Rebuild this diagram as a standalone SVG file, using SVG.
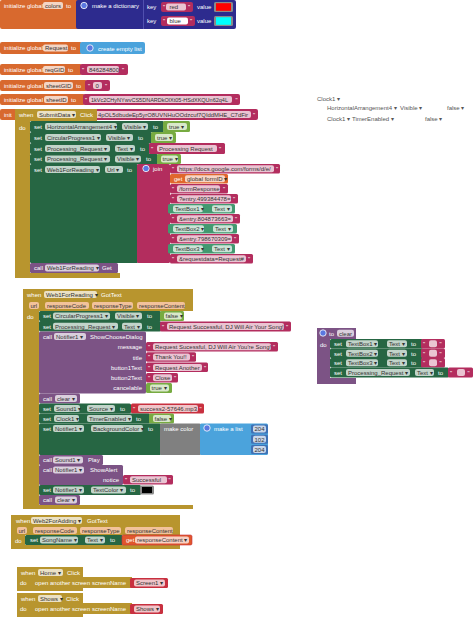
<svg xmlns="http://www.w3.org/2000/svg" width="474" height="620" viewBox="0 0 474 620">
<style>
text{font-family:"Liberation Sans",Arial,sans-serif;font-size:6px;fill:#fff}
.k{fill:#333}
.g{fill:#555}
.c{fill:#fff;fill-opacity:.72}
.ev{fill:#b8952e}
.vr{fill:#d8692e}
.st{fill:#b32d5e}
.lg{fill:#77ab41}
.se{fill:#266643}
.ge{fill:#439970}
.pr{fill:#7c5385}
.pm{fill:#f2c29b}
.e{text-anchor:end}
.gear{fill:#5a78e0;stroke:#fff;stroke-width:.8}
</style>
<rect width="474" height="620" fill="#fff"/>
<g id="connectors"/>

<g id="init-colors">
<rect class="vr" x="0" y="0" width="80" height="29" rx="2"/>
<text x="4" y="8">initialize global</text>
<rect class="c" x="43" y="2" width="20" height="7" rx="2"/><text class="k" x="45" y="7.8">colors</text>
<text x="66" y="8">to</text>
<rect x="76" y="0" width="160" height="29" rx="2" fill="#2d2b8e"/>
<circle class="gear" cx="84" cy="5.5" r="3.2"/>
<text x="92" y="8">make a dictionary</text>
<line x1="143.5" y1="0" x2="143.5" y2="29" stroke="#5b5bb8" stroke-width=".8"/>
<text x="147" y="9">key</text>
<rect class="st" x="161" y="2" width="32" height="10" rx="2"/>
<text x="163" y="9">"</text><rect class="c" x="166" y="3.5" width="20" height="7" rx="2"/><text class="k" x="169.5" y="9">red</text><text x="188" y="9">"</text>
<text x="197" y="9">value</text>
<rect x="214" y="2" width="19" height="10" rx="1.5" fill="#8a8a8a"/><rect x="216" y="3.2" width="15" height="7.6" fill="#ff0000"/>
<text x="147" y="23">key</text>
<rect class="st" x="161" y="16" width="34" height="10" rx="2"/>
<text x="163" y="23">"</text><rect x="167" y="17.5" width="21" height="7" rx="2" fill="#fff"/><text class="k" x="169.5" y="23">blue</text><text x="190" y="23">"</text>
<text x="197" y="23">value</text>
<rect x="214" y="16" width="19" height="10" rx="1.5" fill="#8a8a8a"/><rect x="216" y="17.2" width="15" height="7.6" fill="#00ffff"/>
</g>

<g id="init-request">
<rect class="vr" x="0" y="42" width="82" height="12" rx="2"/>
<text x="4" y="50">initialize global</text>
<rect class="c" x="43" y="44.5" width="25" height="7" rx="2"/><text class="k" x="45" y="50.2">Request</text>
<text x="71" y="50">to</text>
<rect x="80" y="42" width="65" height="12" rx="2" fill="#4ba3dc"/>
<circle class="gear" cx="90" cy="48" r="3.2"/>
<text x="98" y="50.5">create empty list</text>
</g>

<g id="init-reqgid">
<rect class="vr" x="0" y="64" width="82" height="11" rx="2"/>
<text x="4" y="71.5">initialize global</text>
<rect class="c" x="43" y="66" width="22" height="7" rx="2"/><text class="k" x="45" y="71.7">reqGID</text>
<text x="68" y="71.5">to</text>
<rect class="st" x="80" y="64" width="48" height="11" rx="2"/>
<text x="82" y="71.5">"</text><rect class="c" x="87" y="66" width="32" height="7" rx="2"/><text class="k" x="89" y="71.7">846284800</text><text x="122" y="71.5">"</text>
</g>

<g id="init-sheetgid">
<rect class="vr" x="0" y="80" width="87" height="11" rx="2"/>
<text x="4" y="87.5">initialize global</text>
<rect class="c" x="44" y="82" width="29" height="7" rx="2"/><text class="k" x="46" y="87.7">sheetGID</text>
<text x="76" y="87.5">to</text>
<rect class="st" x="85" y="80" width="25" height="11" rx="2"/>
<text x="88" y="87.5">"</text><rect class="c" x="93" y="82" width="9" height="7" rx="2"/><text class="k" x="95.5" y="87.7">0</text><text x="105" y="87.5">"</text>
</g>

<g id="init-sheetid">
<rect class="vr" x="0" y="94" width="85" height="11" rx="2"/>
<text x="4" y="101.5">initialize global</text>
<rect class="c" x="44" y="96" width="24" height="7" rx="2"/><text class="k" x="46" y="101.7">sheetID</text>
<text x="71" y="101.5">to</text>
<rect class="st" x="83" y="94" width="157" height="11" rx="2"/>
<text x="85" y="101.5">"</text><rect class="c" x="89" y="96" width="143" height="7" rx="2"/><text class="k" x="91" y="101.5" style="font-size:5.3px" textLength="137" lengthAdjust="spacingAndGlyphs">1kVc2CHyNYwvCS5DNARDkOlXt05-HSdXKQUn62q4L</text><text x="235.5" y="101.5">"</text>
</g>

<g id="init-formid">
<rect class="vr" x="0" y="109" width="90" height="11" rx="2"/>
<text x="4" y="116.5">init</text>
<rect class="st" x="85" y="109" width="173" height="11" rx="2"/>
<rect class="c" x="90" y="111" width="161" height="7" rx="2"/>
<text class="k" x="98" y="116.7" textLength="150" lengthAdjust="spacingAndGlyphs">4pOL5dbudeEp5yrO8UVNHuOOdzcuf7QIddMHE_C7dFir</text>
<text x="253" y="116.5">"</text>
</g>

<g id="submitdata-click">
<path class="ev" d="M15,109 H97 V121 H30 V273 H120 V278 H15 Z"/>
<text x="19" y="117">when</text>
<rect class="c" x="37" y="111" width="39" height="7" rx="2"/><text class="k" x="39" y="116.7">SubmitData ▾</text>
<text x="80" y="117">Click</text>
<text x="19" y="130">do</text>

<rect class="se" x="30" y="121" width="134" height="11" rx="1.5"/>
<text x="34" y="128.5">set</text>
<rect class="c" x="45" y="123" width="72" height="7" rx="2"/><text class="k" x="47" y="128.7">HorizontalArrangement4 ▾</text>
<rect class="c" x="122" y="123" width="26" height="7" rx="2"/><text class="k" x="124" y="128.7">Visible ▾</text>
<text x="153" y="128.5">to</text>
<rect class="lg" x="163" y="121" width="27" height="11" rx="1.5"/>
<rect class="c" x="167" y="123" width="20" height="7" rx="2"/><text class="k" x="169" y="128.7">true ▾</text>

<rect class="se" x="30" y="132" width="122" height="11" rx="1.5"/>
<text x="34" y="139.5">set</text>
<rect class="c" x="45" y="134" width="56" height="7" rx="2"/><text class="k" x="47" y="139.7">CircularProgress1 ▾</text>
<rect class="c" x="106" y="134" width="27" height="7" rx="2"/><text class="k" x="108" y="139.7">Visible ▾</text>
<text x="138" y="139.5">to</text>
<rect class="lg" x="151" y="132" width="25" height="11" rx="1.5"/>
<rect class="c" x="155" y="134" width="18" height="7" rx="2"/><text class="k" x="157" y="139.7">true ▾</text>

<rect class="se" x="30" y="143" width="120" height="11" rx="1.5"/>
<text x="34" y="150.5">set</text>
<rect class="c" x="45" y="145" width="65" height="7" rx="2"/><text class="k" x="47" y="150.7">Processing_Request ▾</text>
<rect class="c" x="115" y="145" width="20" height="7" rx="2"/><text class="k" x="117" y="150.7">Text ▾</text>
<text x="140" y="150.5">to</text>
<rect class="st" x="149" y="143" width="76" height="11" rx="1.5"/>
<text x="151" y="150.5">"</text><rect class="c" x="157" y="145" width="60" height="7" rx="2"/><text class="k" x="159" y="150.7">Processing Request</text><text x="219" y="150.5">"</text>

<rect class="se" x="30" y="154" width="128" height="10" rx="1.5"/>
<text x="34" y="161">set</text>
<rect class="c" x="45" y="155.5" width="65" height="7" rx="2"/><text class="k" x="47" y="161.2">Processing_Request ▾</text>
<rect class="c" x="115" y="155.5" width="26" height="7" rx="2"/><text class="k" x="117" y="161.2">Visible ▾</text>
<text x="146" y="161">to</text>
<rect class="lg" x="157" y="154" width="24" height="10" rx="1.5"/>
<rect class="c" x="161" y="155.5" width="17" height="7" rx="2"/><text class="k" x="162.5" y="161.2">true ▾</text>

<rect class="se" x="30" y="164" width="108" height="99" rx="1.5"/>
<text x="34" y="171.5">set</text>
<rect class="c" x="45" y="166" width="55" height="7" rx="2"/><text class="k" x="47" y="171.7">Web1ForReading ▾</text>
<rect class="c" x="105" y="166" width="18" height="7" rx="2"/><text class="k" x="107" y="171.7">Url ▾</text>
<text x="127" y="171.5">to</text>
<rect class="st" x="137" y="164" width="33" height="99" rx="1.5"/>
<circle class="gear" cx="146" cy="168.5" r="3.2"/>
<text x="153" y="171">join</text>

<rect class="st" x="170" y="164" width="110" height="9.5" rx="1.5"/>
<text x="172" y="171">"</text><rect class="c" x="177" y="165.3" width="97" height="7" rx="2"/><text class="k" x="179" y="171">https://docs.google.com/forms/d/e/</text><text x="276" y="171">"</text>

<rect x="170" y="174" width="58" height="9.5" rx="1.5" fill="#e0672c"/>
<text x="174" y="181">get</text>
<rect class="c" x="185" y="175.3" width="40" height="7" rx="2"/><text class="k" x="187" y="181">global formID ▾</text>

<rect class="st" x="170" y="184" width="58" height="9.5" rx="1.5"/>
<text x="172" y="191">"</text><rect class="c" x="177" y="185.3" width="43" height="7" rx="2"/><text class="k" x="179" y="191">/formResponse</text><text x="223" y="191">"</text>

<rect class="st" x="170" y="194" width="68" height="9.5" rx="1.5"/>
<text x="172" y="201">"</text><rect class="c" x="177" y="195.3" width="54" height="7" rx="2"/><text class="k" x="179" y="201">?entry.499384478=</text><text x="233" y="201">"</text>

<rect class="ge" x="168" y="204" width="67" height="9.5" rx="1.5"/>
<rect class="c" x="173" y="205.3" width="30" height="7" rx="2"/><text class="k" x="175" y="211">TextBox1 ▾</text>
<rect class="c" x="212" y="205.3" width="20" height="7" rx="2"/><text class="k" x="214" y="211">Text ▾</text>

<rect class="st" x="170" y="214" width="70" height="9.5" rx="1.5"/>
<text x="172" y="221">"</text><rect class="c" x="177" y="215.3" width="56" height="7" rx="2"/><text class="k" x="179" y="221">&amp;entry.804873663=</text><text x="235" y="221">"</text>

<rect class="ge" x="168" y="224" width="69" height="9.5" rx="1.5"/>
<rect class="c" x="173" y="225.3" width="31" height="7" rx="2"/><text class="k" x="175" y="231">TextBox2 ▾</text>
<rect class="c" x="213" y="225.3" width="20" height="7" rx="2"/><text class="k" x="215" y="231">Text ▾</text>

<rect class="st" x="170" y="234" width="69" height="9.5" rx="1.5"/>
<text x="172" y="241">"</text><rect class="c" x="177" y="235.3" width="55" height="7" rx="2"/><text class="k" x="179" y="241">&amp;entry.798670309=</text><text x="234" y="241">"</text>

<rect class="ge" x="168" y="244" width="67" height="9.5" rx="1.5"/>
<rect class="c" x="173" y="245.3" width="30" height="7" rx="2"/><text class="k" x="175" y="251">TextBox3 ▾</text>
<rect class="c" x="212" y="245.3" width="20" height="7" rx="2"/><text class="k" x="214" y="251">Text ▾</text>

<rect class="st" x="170" y="254" width="83" height="9.5" rx="1.5"/>
<text x="172" y="261">"</text><rect class="c" x="177" y="255.3" width="69" height="7" rx="2"/><text class="k" x="179" y="261">&amp;requestdata=Request#</text><text x="248" y="261">"</text>

<rect class="pr" x="30" y="263" width="88" height="10" rx="1.5"/>
<text x="34" y="270">call</text>
<rect class="c" x="45" y="264.5" width="54" height="7" rx="2"/><text class="k" x="47" y="270.2">Web1ForReading ▾</text>
<text x="102" y="270">Get</text>
</g>

<g id="floating-labels">
<text class="g" x="317" y="101">Clock1 ▾</text>
<text class="g" x="327" y="110">HorizontalArrangement4 ▾</text>
<text class="g" x="400" y="110">Visible ▾</text>
<text class="g" x="447" y="110">false ▾</text>
<text class="g" x="327" y="120.5">Clock1 ▾</text>
<text class="g" x="352" y="120.5">TimerEnabled ▾</text>
<text class="g" x="425" y="120.5">false ▾</text>
</g>

<g id="web1-gottext">
<path class="ev" d="M23,289 H193 V311 H39 V505 H193 V509 H23 Z"/>
<text x="27" y="297">when</text>
<rect class="c" x="44" y="291" width="53" height="7" rx="2"/><text class="k" x="46" y="296.7">Web1ForReading ▾</text>
<text x="101" y="297">GotText</text>
<rect class="pm" x="29" y="302" width="10" height="7" rx="2"/><text class="k" x="30.5" y="307.7">url</text>
<rect class="pm" x="45" y="302" width="44" height="7" rx="2"/><text class="k" x="47" y="307.7">responseCode</text>
<rect class="pm" x="92" y="302" width="41" height="7" rx="2"/><text class="k" x="94" y="307.7">responseType</text>
<rect class="pm" x="137" y="302" width="48" height="7" rx="2"/><text class="k" x="139" y="307.7">responseContent</text>
<text x="27" y="318.5">do</text>

<rect class="se" x="39" y="311" width="122" height="10" rx="1.5"/>
<text x="43" y="318">set</text>
<rect class="c" x="53" y="312.5" width="57" height="7" rx="2"/><text class="k" x="55" y="318.2">CircularProgress1 ▾</text>
<rect class="c" x="115" y="312.5" width="27" height="7" rx="2"/><text class="k" x="117" y="318.2">Visible ▾</text>
<text x="147" y="318">to</text>
<rect class="lg" x="160" y="311" width="24" height="10" rx="1.5"/>
<rect class="c" x="164" y="312.5" width="18" height="7" rx="2"/><text class="k" x="165.5" y="318.2">false ▾</text>

<rect class="se" x="39" y="321" width="122" height="10.5" rx="1.5"/>
<text x="43" y="328.5">set</text>
<rect class="c" x="53" y="322.8" width="65" height="7" rx="2"/><text class="k" x="55" y="328.5">Processing_Request ▾</text>
<rect class="c" x="122" y="322.8" width="20" height="7" rx="2"/><text class="k" x="124" y="328.5">Text ▾</text>
<text x="147" y="328.5">to</text>
<rect class="st" x="160" y="321.5" width="131" height="10" rx="1.5"/>
<text x="162" y="328.5">"</text><rect class="c" x="167" y="323" width="117" height="7" rx="2"/><text class="k" x="169" y="328.7">Request Successful, DJ Will Air Your Song!</text><text x="286" y="328.5">"</text>

<rect class="pr" x="39" y="331.5" width="107" height="62" rx="1.5"/>
<text x="43" y="339">call</text>
<rect class="c" x="54" y="333" width="32" height="7" rx="2"/><text class="k" x="56" y="338.7">Notifier1 ▾</text>
<text x="90" y="339">ShowChooseDialog</text>
<text class="e" x="142" y="349">message</text>
<text class="e" x="142" y="359.5">title</text>
<text class="e" x="142" y="369.5">button1Text</text>
<text class="e" x="142" y="379.5">button2Text</text>
<text class="e" x="142" y="390">cancelable</text>

<rect class="st" x="146" y="342" width="132" height="9.5" rx="1.5"/>
<text x="148" y="349">"</text><rect class="c" x="153" y="343.3" width="118" height="7" rx="2"/><text class="k" x="155" y="349">Request Sucessful, DJ Will Air You're Song!</text><text x="273" y="349">"</text>
<rect class="st" x="146" y="352.3" width="50" height="9.5" rx="1.5"/>
<text x="148" y="359.3">"</text><rect class="c" x="153" y="353.6" width="37" height="7" rx="2"/><text class="k" x="155" y="359.3">Thank You!!</text><text x="192" y="359.3">"</text>
<rect class="st" x="146" y="362.6" width="62" height="9.5" rx="1.5"/>
<text x="148" y="369.6">"</text><rect class="c" x="153" y="363.9" width="49" height="7" rx="2"/><text class="k" x="155" y="369.6">Request Another</text><text x="204" y="369.6">"</text>
<rect class="st" x="146" y="372.9" width="32" height="9.5" rx="1.5"/>
<text x="148" y="379.9">"</text><rect class="c" x="153" y="374.2" width="19" height="7" rx="2"/><text class="k" x="155" y="379.9">Close</text><text x="174" y="379.9">"</text>
<rect class="lg" x="146" y="383" width="26" height="10" rx="1.5"/>
<rect class="c" x="150" y="384.5" width="19" height="7" rx="2"/><text class="k" x="151.5" y="390.2">true ▾</text>

<rect class="pr" x="39" y="393.5" width="41" height="10" rx="1.5"/>
<text x="43" y="400.5">call</text>
<rect class="c" x="55" y="395" width="22" height="7" rx="2"/><text class="k" x="57" y="400.7">clear ▾</text>

<rect class="se" x="39" y="403.5" width="92" height="10" rx="1.5"/>
<text x="43" y="410.5">set</text>
<rect class="c" x="54" y="405" width="26" height="7" rx="2"/><text class="k" x="56" y="410.7">Sound1 ▾</text>
<rect class="c" x="87" y="405" width="28" height="7" rx="2"/><text class="k" x="89" y="410.7">Source ▾</text>
<text x="120" y="410.5">to</text>
<rect x="131" y="403.5" width="73" height="10" rx="1.5" fill="#c8303f"/>
<text x="133" y="410.5">"</text><rect class="c" x="138" y="405" width="60" height="7" rx="2"/><text class="k" x="140" y="410.7">success2-57646.mp3</text><text x="199.5" y="410.5">"</text>

<rect class="se" x="39" y="413.5" width="111" height="10" rx="1.5"/>
<text x="43" y="420.5">set</text>
<rect class="c" x="54" y="415" width="25" height="7" rx="2"/><text class="k" x="56" y="420.7">Clock1 ▾</text>
<rect class="c" x="87" y="415" width="45" height="7" rx="2"/><text class="k" x="89" y="420.7">TimerEnabled ▾</text>
<text x="136" y="420.5">to</text>
<rect class="lg" x="149" y="413.5" width="25" height="10" rx="1.5"/>
<rect class="c" x="153" y="415" width="18" height="7" rx="2"/><text class="k" x="154.5" y="420.7">false ▾</text>

<rect class="se" x="39" y="423.5" width="122" height="31.5" rx="1.5"/>
<text x="43" y="430.5">set</text>
<rect class="c" x="53" y="425" width="31" height="7" rx="2"/><text class="k" x="55" y="430.7">Notifier1 ▾</text>
<rect class="c" x="91" y="425" width="52" height="7" rx="2"/><text class="k" x="93" y="430.7">BackgroundColor ▾</text>
<text x="148" y="430.5">to</text>
<rect x="160" y="423.5" width="41" height="31.5" rx="1.5" fill="#808080"/>
<text x="164" y="430.5">make color</text>
<rect x="200" y="423.5" width="68" height="31.5" rx="1.5" fill="#4ba3dc"/>
<circle class="gear" cx="207" cy="428" r="3.2"/>
<text x="214" y="430.5">make a list</text>
<rect x="251" y="424.5" width="17" height="9" rx="1.5" fill="#3f71b5"/><rect class="c" x="253" y="425.5" width="13" height="7" rx="2"/><text class="k" x="254.5" y="431.2">204</text>
<rect x="251" y="434.8" width="17" height="9" rx="1.5" fill="#3f71b5"/><rect class="c" x="253" y="435.8" width="13" height="7" rx="2"/><text class="k" x="254.5" y="441.5">102</text>
<rect x="251" y="445.1" width="17" height="9" rx="1.5" fill="#3f71b5"/><rect class="c" x="253" y="446.1" width="13" height="7" rx="2"/><text class="k" x="254.5" y="451.8">204</text>

<rect class="pr" x="39" y="455" width="64" height="10" rx="1.5"/>
<text x="43" y="462">call</text>
<rect class="c" x="53" y="456.5" width="30" height="7" rx="2"/><text class="k" x="55" y="462.2">Sound1 ▾</text>
<text x="88" y="462">Play</text>

<rect class="pr" x="39" y="465" width="84" height="20" rx="1.5"/>
<text x="43" y="472">call</text>
<rect class="c" x="53" y="466.5" width="31" height="7" rx="2"/><text class="k" x="55" y="472.2">Notifier1 ▾</text>
<text x="90" y="472">ShowAlert</text>
<text class="e" x="119" y="482">notice</text>
<rect class="st" x="123" y="475" width="50" height="9.5" rx="1.5"/>
<text x="125" y="482">"</text><rect class="c" x="130" y="476.3" width="37" height="7" rx="2"/><text class="k" x="132" y="482">Successful</text><text x="168.5" y="482">"</text>

<rect class="se" x="39" y="485" width="102" height="10" rx="1.5"/>
<text x="43" y="492">set</text>
<rect class="c" x="53" y="486.5" width="31" height="7" rx="2"/><text class="k" x="55" y="492.2">Notifier1 ▾</text>
<rect class="c" x="91" y="486.5" width="35" height="7" rx="2"/><text class="k" x="93" y="492.2">TextColor ▾</text>
<text x="130" y="492">to</text>
<rect x="140" y="485.5" width="14" height="9" rx="1.5" fill="#8a8a8a"/><rect x="142" y="487" width="10" height="6" fill="#000"/>

<rect class="pr" x="39" y="495" width="41" height="10" rx="1.5"/>
<text x="43" y="502">call</text>
<rect class="c" x="55" y="496.5" width="22" height="7" rx="2"/><text class="k" x="57" y="502.2">clear ▾</text>
</g>

<g id="proc-clear">
<path class="pr" d="M317,328 H356 V339 H330 V378 H356 V384 H317 Z"/>
<circle class="gear" cx="323" cy="333" r="3.2"/>
<text x="329" y="335.5">to</text>
<rect class="c" x="337" y="329.8" width="17" height="7" rx="2"/><text class="k" x="339" y="335.5">clear</text>
<text x="320" y="346.5">do</text>

<rect class="se" x="330" y="339" width="93" height="9.5" rx="1.5"/>
<text x="334" y="346">set</text>
<rect class="c" x="346" y="340.3" width="32" height="7" rx="2"/><text class="k" x="348" y="346">TextBox1 ▾</text>
<rect class="c" x="387" y="340.3" width="20" height="7" rx="2"/><text class="k" x="389" y="346">Text ▾</text>
<text x="411" y="346">to</text>
<rect class="st" x="421" y="339" width="24" height="9.5" rx="1.5"/>
<text x="423" y="346">"</text><rect class="c" x="429" y="340.3" width="8" height="7" rx="2"/><text x="439.5" y="346">"</text>

<rect class="se" x="330" y="348.5" width="93" height="9.5" rx="1.5"/>
<text x="334" y="355.5">set</text>
<rect class="c" x="346" y="349.8" width="32" height="7" rx="2"/><text class="k" x="348" y="355.5">TextBox2 ▾</text>
<rect class="c" x="387" y="349.8" width="20" height="7" rx="2"/><text class="k" x="389" y="355.5">Text ▾</text>
<text x="411" y="355.5">to</text>
<rect class="st" x="421" y="348.5" width="24" height="9.5" rx="1.5"/>
<text x="423" y="355.5">"</text><rect class="c" x="429" y="349.8" width="8" height="7" rx="2"/><text x="439.5" y="355.5">"</text>

<rect class="se" x="330" y="358" width="93" height="9.5" rx="1.5"/>
<text x="334" y="365">set</text>
<rect class="c" x="346" y="359.3" width="32" height="7" rx="2"/><text class="k" x="348" y="365">TextBox3 ▾</text>
<rect class="c" x="387" y="359.3" width="20" height="7" rx="2"/><text class="k" x="389" y="365">Text ▾</text>
<text x="411" y="365">to</text>
<rect class="st" x="421" y="358" width="24" height="9.5" rx="1.5"/>
<text x="423" y="365">"</text><rect class="c" x="429" y="359.3" width="8" height="7" rx="2"/><text x="439.5" y="365">"</text>

<rect class="se" x="330" y="367.5" width="119" height="10" rx="1.5"/>
<text x="334" y="374.7">set</text>
<rect class="c" x="346" y="369" width="64" height="7" rx="2"/><text class="k" x="348" y="374.7">Processing_Request ▾</text>
<rect class="c" x="415" y="369" width="19" height="7" rx="2"/><text class="k" x="417" y="374.7">Text ▾</text>
<text x="438" y="374.7">to</text>
<rect class="st" x="448" y="367.5" width="25" height="10" rx="1.5"/>
<text x="450" y="374.7">"</text><rect class="c" x="457" y="369" width="8" height="7" rx="2"/><text x="467.5" y="374.7">"</text>
</g>

<g id="web2-gottext">
<path class="ev" d="M11,515 H180 V535 H25 V545 H180 V549 H11 Z"/>
<text x="16" y="522.5">when</text>
<rect class="c" x="31" y="517" width="51" height="7" rx="2"/><text class="k" x="33" y="522.7">Web2ForAdding ▾</text>
<text x="87" y="522.5">GotText</text>
<rect class="pm" x="17" y="527" width="10" height="7" rx="2"/><text class="k" x="18.5" y="532.7">url</text>
<rect class="pm" x="33" y="527" width="44" height="7" rx="2"/><text class="k" x="35" y="532.7">responseCode</text>
<rect class="pm" x="80" y="527" width="41" height="7" rx="2"/><text class="k" x="82" y="532.7">responseType</text>
<rect class="pm" x="125" y="527" width="48" height="7" rx="2"/><text class="k" x="127" y="532.7">responseContent</text>
<text x="15" y="542.5">do</text>
<rect class="se" x="25" y="535" width="98" height="10" rx="1.5"/>
<text x="30" y="542">set</text>
<rect class="c" x="40" y="536.5" width="38" height="7" rx="2"/><text class="k" x="42" y="542.2">SongName ▾</text>
<rect class="c" x="85" y="536.5" width="20" height="7" rx="2"/><text class="k" x="87" y="542.2">Text ▾</text>
<text x="110" y="542">to</text>
<rect x="122" y="535" width="70" height="10" rx="1.5" fill="#e0572c" stroke="#c8303f" stroke-width=".6"/>
<text x="126" y="542">get</text>
<rect class="c" x="135" y="536.5" width="54" height="7" rx="2"/><text class="k" x="137" y="542.2">responseContent ▾</text>
</g>

<g id="home-click">
<path class="ev" d="M17,567 H83 V577 H132 V588 H83 V591 H17 Z"/>
<text x="21" y="574.5">when</text>
<rect class="c" x="38" y="569" width="25" height="7" rx="2"/><text class="k" x="40" y="574.7">Home ▾</text>
<text x="67" y="574.5">Click</text>
<text x="20" y="585">do</text>
<text x="35" y="585">open another screen</text>
<text x="92" y="585">screenName</text>
<rect x="130" y="578" width="38" height="10" rx="1.5" fill="#c8303f"/>
<rect class="c" x="134" y="579.5" width="31" height="7" rx="2"/><text class="k" x="136" y="585.2">Screen1 ▾</text>
</g>

<g id="shows-click">
<path class="ev" d="M17,593 H83 V603 H132 V614 H83 V617 H17 Z"/>
<text x="21" y="600.5">when</text>
<rect class="c" x="38" y="595" width="24" height="7" rx="2"/><text class="k" x="40" y="600.7">Shows ▾</text>
<text x="66" y="600.5">Click</text>
<text x="20" y="611">do</text>
<text x="35" y="611">open another screen</text>
<text x="92" y="611">screenName</text>
<rect x="130" y="604" width="33" height="10" rx="1.5" fill="#c8303f"/>
<rect class="c" x="134" y="605.5" width="26" height="7" rx="2"/><text class="k" x="136" y="611.2">Shows ▾</text>
</g>
</svg>
